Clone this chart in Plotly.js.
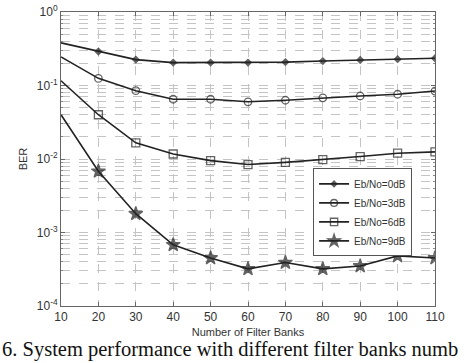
<!DOCTYPE html>
<html>
<head>
<meta charset="utf-8">
<script src="https://cdn.plot.ly/plotly-3.0.1.min.js"></script>
<style>html,body{margin:0;padding:0;background:#fff;}#chart{width:474px;height:363px;}</style>
</head>
<body>
<div id="chart"></div>
<script>
var filterBanks = [10, 20, 30, 40, 50, 60, 70, 80, 90, 100, 110];
var ber0dB = [0.38, 0.29, 0.225, 0.205, 0.205, 0.205, 0.208, 0.215, 0.222, 0.228, 0.235];
var ber3dB = [0.245, 0.125, 0.085, 0.065, 0.065, 0.06, 0.063, 0.068, 0.072, 0.076, 0.084];
var ber6dB = [0.116, 0.04, 0.0166, 0.0117, 0.0095, 0.0084, 0.009, 0.0098, 0.0108, 0.012, 0.0125];
var ber9dB = [0.04, 0.0068, 0.0018, 0.00068, 0.00045, 0.00032, 0.00039, 0.00032, 0.00035, 0.00048, 0.00045];
var seriesNames = ['Eb/No=0dB', 'Eb/No=3dB', 'Eb/No=6dB', 'Eb/No=9dB'];
var yTickVals = [1e-4, 1e-3, 1e-2, 1e-1, 1];
var yTickText = ['10<sup>-4</sup>', '10<sup>-3</sup>', '10<sup>-2</sup>', '10<sup>-1</sup>', '10<sup>0</sup>'];
var xTickVals = [10, 20, 30, 40, 50, 60, 70, 80, 90, 100, 110];
var caption = '6. System performance with different filter banks numb';

var lineColor = '#222';
function tr(y, name, sym, size) {
  // no marker drawn at the first point (as in the reference)
  var sizes = filterBanks.map(function (v, i) { return i === 0 ? 0 : size; });
  return {x: filterBanks, y: y, name: name, type: 'scatter', mode: 'lines+markers',
    line: {color: lineColor, width: 1.6},
    marker: {symbol: sym, size: sizes, color: lineColor, line: {color: lineColor, width: 1.3}}};
}
var data = [
  tr(ber0dB, seriesNames[0], 'diamond', 5),
  tr(ber3dB, seriesNames[1], 'circle-open', 7.5),
  tr(ber6dB, seriesNames[2], 'square-open', 8),
  tr(ber9dB, seriesNames[3], 'star', 10.5)
];
var gridC = '#c4c4c4';
var layout = {
  width: 474, height: 363,
  margin: {l: 61, r: 39, t: 12, b: 57},
  paper_bgcolor: '#fff', plot_bgcolor: '#fff',
  font: {family: 'Liberation Sans, Arial, sans-serif', size: 11, color: '#333'},
  showlegend: true,
  legend: {x: 0.674, y: 0.468, xanchor: 'left', yanchor: 'top',
    bordercolor: '#555', borderwidth: 1, bgcolor: '#fff',
    font: {size: 10, color: '#333'}, tracegroupgap: 0, itemwidth: 30},
  xaxis: {range: [10, 110], tickmode: 'array', tickvals: xTickVals,
    showgrid: true, gridcolor: gridC, griddash: 'dash', gridwidth: 1,
    zeroline: false, showline: true, mirror: 'ticks', linecolor: '#666', linewidth: 1,
    ticks: 'inside', ticklen: 4, tickcolor: '#666',
    tickfont: {size: 12, color: '#333'},
    title: {text: 'Number of Filter Banks', font: {size: 11, color: '#333'}, standoff: 4}},
  yaxis: {type: 'log', range: [-4, 0], tickmode: 'array', tickvals: yTickVals, ticktext: yTickText,
    showgrid: true, gridcolor: gridC, griddash: 'dash', gridwidth: 1,
    zeroline: false, showline: true, mirror: 'ticks', linecolor: '#666', linewidth: 1,
    ticks: 'inside', ticklen: 4, tickcolor: '#666',
    tickfont: {size: 12, color: '#333'},
    minor: {dtick: 'D1', showgrid: true, gridcolor: gridC, griddash: 'dash', ticks: 'inside', ticklen: 2, tickcolor: '#888'},
    title: {text: 'BER', font: {size: 11, color: '#333'}, standoff: 6}},
  annotations: [{text: caption, xref: 'paper', yref: 'paper', x: -61/374, y: -57/294, xanchor: 'left', yanchor: 'bottom',
    showarrow: false, xshift: 0, yshift: 0, font: {family: 'Liberation Serif, Times New Roman, serif', size: 20.5, color: '#111'}}]
};
Plotly.newPlot('chart', data, layout, {displayModeBar: false, staticPlot: true});
</script>
</body>
</html>
